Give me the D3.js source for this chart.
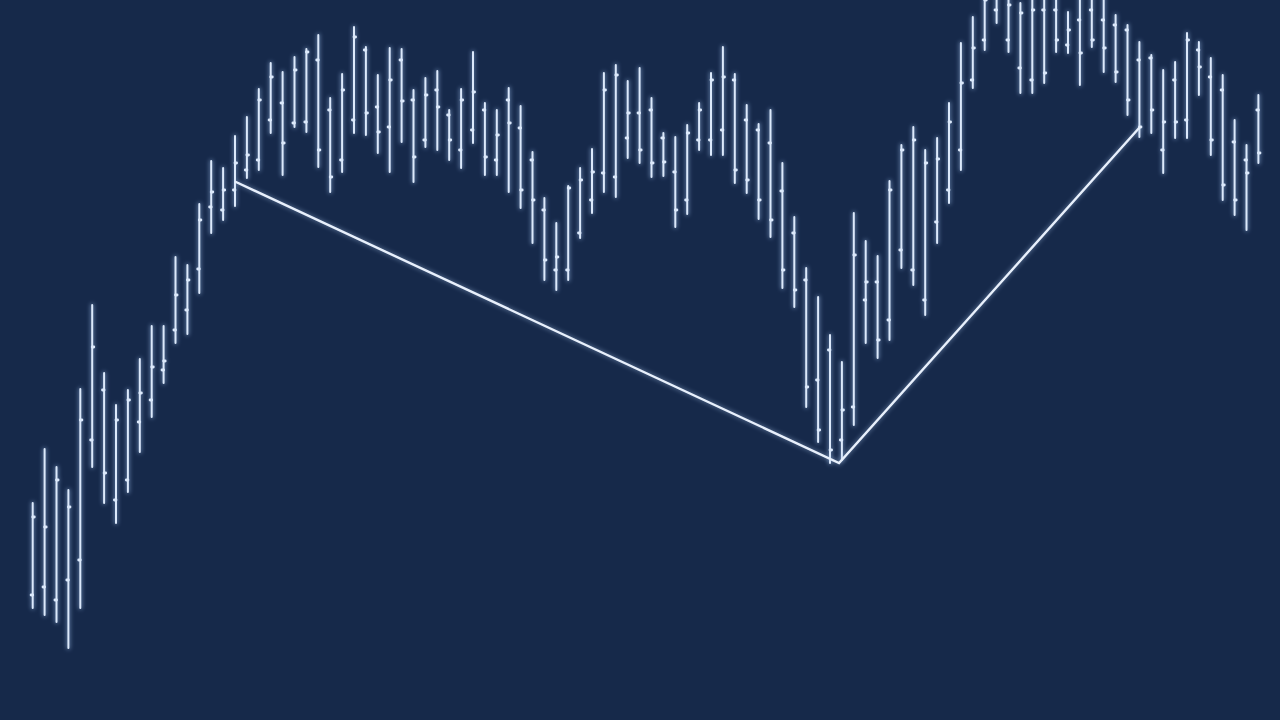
<!DOCTYPE html>
<html>
<head>
<meta charset="utf-8">
<script src="https://cdn.jsdelivr.net/npm/d3@7"></script>
<style>
  html, body { margin: 0; padding: 0; background: #16294a; overflow: hidden; }
  svg { display: block; }
</style>
</head>
<body>
<svg id="chart" width="1280" height="720"></svg>
<script>
const highs = [217,271,253,230,331,415,347,315,330,361,394,394,463,455,516,559,552,584,603,631,
  657,648,663,671,685,622,646,693,673,645,672,671,630,642,649,610,631,668,617,610,
  632,614,568,522,497,534,552,571,647,655,639,652,622,587,583,595,617,647,673,646,
  615,596,610,557,503,452,423,385,358,507,479,464,539,575,593,570,582,617,677,703,
  740,750,740,717,740,740,740,708,730,740,735,705,695,678,665,650,658,687,678,662,
  645,600,575,625];
const lows = [112,105,98,72,112,253,217,197,228,268,303,337,377,386,427,487,500,514,542,550,
  587,545,593,588,553,528,548,587,585,567,548,578,538,573,570,560,552,577,545,545,
  528,512,477,440,430,440,482,507,528,523,562,557,543,544,493,506,570,565,565,537,
  527,501,483,432,413,313,278,257,260,295,377,362,380,452,435,405,477,517,550,632,
  670,697,668,627,627,637,668,667,635,673,648,638,605,583,587,547,582,582,625,565,
  520,505,490,557];
const opens = [125,133,120,140,160,280,330,220,240,298,320,350,390,410,451,513,510,530,550,560,
  600,617,597,598,660,610,560,600,670,613,593,660,620,580,630,605,570,590,610,560,
  620,592,560,510,450,450,487,520,547,543,582,607,610,582,548,520,580,580,590,640,
  600,590,577,529,487,440,340,370,280,313,420,438,400,470,450,420,498,530,570,640,
  680,710,680,652,640,710,710,675,700,710,700,695,690,660,662,570,640,600,670,643,
  630,578,560,610];
const closes = [203,193,240,213,300,373,247,300,320,327,353,359,425,440,500,528,530,557,565,620,
  643,577,650,668,570,543,630,683,607,588,640,619,563,625,613,580,620,628,563,585,
  597,530,520,460,463,532,540,548,630,645,607,570,557,558,510,587,610,640,643,550,
  540,520,500,450,430,333,290,270,310,465,438,380,530,570,580,557,561,598,637,672,
  720,730,715,707,710,647,680,690,667,680,672,648,620,593,610,598,598,680,653,580,
  535,520,547,567];

// Trend line anchors (bar position, price)
const linePos = [17.08, 67.76, 93.05];
const linePrice = [538, 257, 593];

const svg = d3.select("#chart");
const W = 1280, H = 720;

const bars = highs.map((h, i) => ({ i, o: opens[i], h, l: lows[i], c: closes[i] }));

const x = d3.scaleLinear().domain([0, bars.length - 1]).range([32.7, 1258.4]);
const y = d3.scaleLinear().domain([0, 720]).range([H, 0]);

svg.append("rect").attr("width", W).attr("height", H).attr("fill", "#16294a");

const defs = svg.append("defs");
const glow = defs.append("filter").attr("id", "glow").attr("x", "-200%").attr("y", "-20%")
  .attr("width", "500%").attr("height", "140%");
glow.append("feGaussianBlur").attr("stdDeviation", 2.2);

const gGlow = svg.append("g").attr("filter", "url(#glow)").attr("opacity", 0.55);
const gBars = svg.append("g");

function drawBars(g, color, width) {
  g.selectAll("line.hl").data(bars).join("line")
    .attr("class", "hl")
    .attr("x1", d => x(d.i)).attr("x2", d => x(d.i))
    .attr("y1", d => y(d.h)).attr("y2", d => y(d.l))
    .attr("stroke", color).attr("stroke-width", width).attr("stroke-linecap", "round");
  g.selectAll("line.op").data(bars).join("line")
    .attr("class", "op")
    .attr("x1", d => x(d.i) - 1.6).attr("x2", d => x(d.i))
    .attr("y1", d => y(d.o)).attr("y2", d => y(d.o))
    .attr("stroke", color).attr("stroke-width", 2.8).attr("stroke-linecap", "round");
  g.selectAll("line.cl").data(bars).join("line")
    .attr("class", "cl")
    .attr("x1", d => x(d.i)).attr("x2", d => x(d.i) + 1.6)
    .attr("y1", d => y(d.c)).attr("y2", d => y(d.c))
    .attr("stroke", color).attr("stroke-width", 2.8).attr("stroke-linecap", "round");
}
drawBars(gGlow, "#9fc0ee", 3.5);
drawBars(gBars, "#dce9fb", 2);

const linePts = linePos.map((p, k) => [x(p), y(linePrice[k])]);
const line = d3.line();
svg.append("path").attr("d", line(linePts))
  .attr("fill", "none").attr("stroke", "#a9c4ea").attr("stroke-width", 4.5)
  .attr("opacity", 0.35).attr("filter", "url(#glow)");
svg.append("path").attr("d", line(linePts))
  .attr("fill", "none").attr("stroke", "#e8f0fc").attr("stroke-width", 2.4)
  .attr("stroke-linejoin", "miter").attr("stroke-linecap", "round");
</script>
</body>
</html>
